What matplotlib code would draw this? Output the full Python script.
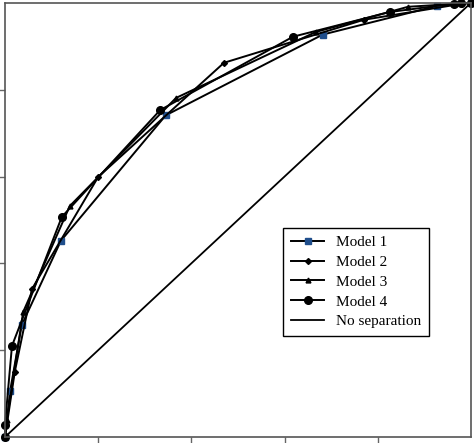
import matplotlib
matplotlib.use("Agg")
import matplotlib.pyplot as plt

m1_x = [0.0, 0.011, 0.036, 0.120, 0.345, 0.682, 0.927, 1.0]
m1_y = [0.0, 0.106, 0.258, 0.452, 0.741, 0.927, 0.993, 1.0]

m2_x = [0.0, 0.021, 0.058, 0.200, 0.470, 0.770, 0.981, 1.0]
m2_y = [0.0, 0.150, 0.341, 0.599, 0.862, 0.961, 0.998, 1.0]

m3_x = [0.0, 0.004, 0.039, 0.139, 0.367, 0.667, 0.865, 1.0]
m3_y = [0.0, 0.039, 0.288, 0.532, 0.781, 0.933, 0.991, 1.0]

m4_x = [0.0, 0.0, 0.015, 0.122, 0.333, 0.618, 0.826, 0.963, 0.978, 1.0]
m4_y = [0.0, 0.028, 0.210, 0.507, 0.753, 0.922, 0.979, 0.998, 0.999, 1.0]

diag = [0.0, 1.0]
ticks = [0.2, 0.4, 0.6, 0.8]

plt.rcParams['font.family'] = ['Liberation Serif', 'DejaVu Serif']

fig = plt.figure(figsize=(4.74, 4.43), dpi=100)
ax = fig.add_axes([0.0105, 0.0135, 0.983, 0.980])

kw = dict(color='black', lw=1.4, clip_on=False)
ax.plot(m1_x, m1_y, marker='s', ms=5, mfc='#1f4e8c', mec='#1f4e8c', label='Model 1', **kw)
ax.plot(m2_x, m2_y, marker='D', ms=3, mfc='black', mec='black', label='Model 2', **kw)
ax.plot(m3_x, m3_y, marker='^', ms=3.5, mfc='black', mec='black', label='Model 3', **kw)
ax.plot(m4_x, m4_y, marker='o', ms=5.5, mfc='black', mec='black', label='Model 4', **kw)
ax.plot(diag, diag, color='black', lw=1.3, label='No separation')

ax.set_xlim(0, 1)
ax.set_ylim(0, 1)
ax.set_xticks(ticks)
ax.set_yticks(ticks)
ax.set_xticklabels([])
ax.set_yticklabels([])
ax.tick_params(direction='out', length=5, color='#666666', width=1)
for s in ax.spines.values():
    s.set_color('#555555')
    s.set_linewidth(1.2)

leg = ax.legend(loc='upper left', bbox_to_anchor=(0.597, 0.482), fontsize=11,
                frameon=True, fancybox=False, edgecolor='black', framealpha=1,
                handlelength=2.2, labelspacing=0.4, borderpad=0.5, handletextpad=0.75,
                borderaxespad=0)
leg.get_frame().set_linewidth(1.0)

fig.savefig('out.png', dpi=100)
